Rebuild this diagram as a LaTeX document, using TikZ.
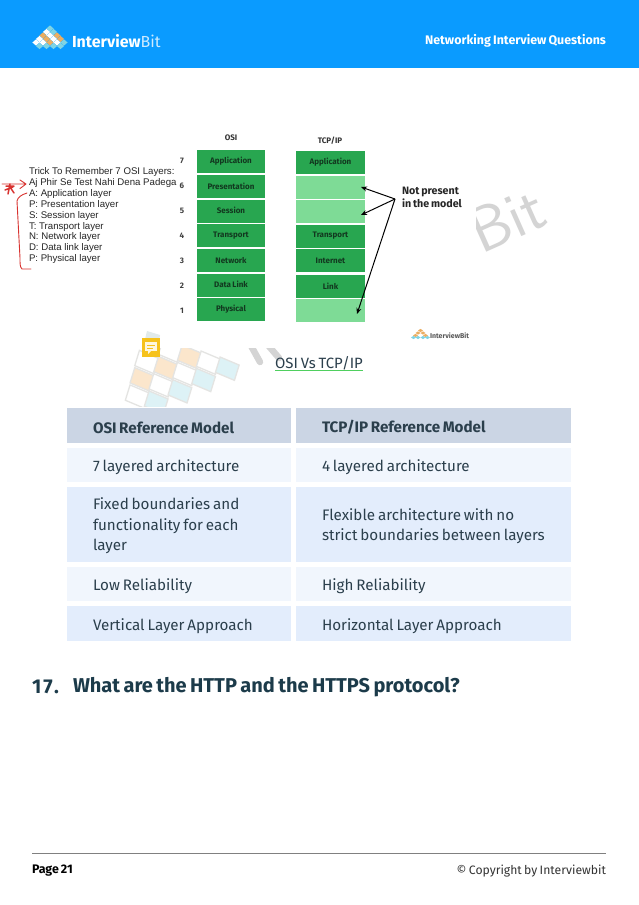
\documentclass[tikz,border=0pt]{standalone}
\usepackage{fontspec}
\setmainfont[WordSpace=0.72]{Fira Sans}
\newfontfamily\arialf{Liberation Sans}
\usetikzlibrary{arrows.meta,calc}
\definecolor{hdrblue}{HTML}{0A9BFF}
\definecolor{dkgreen}{HTML}{28A650}
\definecolor{ltgreen}{HTML}{7EDB96}
\definecolor{gtext}{HTML}{12381F}
\definecolor{thead}{HTML}{CBD5E4}
\definecolor{trowa}{HTML}{F1F6FD}
\definecolor{trowb}{HTML}{E3EDFC}
\definecolor{ttext}{HTML}{2B3F4C}
\definecolor{ttl}{HTML}{1C3B4A}
\definecolor{redm}{HTML}{D8322F}
\definecolor{lgor}{HTML}{FBE6CC}
\definecolor{lgcy}{HTML}{DDF2F6}
\definecolor{lgbd}{HTML}{E4E4E2}
\definecolor{amb}{HTML}{F6C21C}
\definecolor{wm}{HTML}{D4D4D4}
\definecolor{orl}{HTML}{EBAE62}
\definecolor{cyl}{HTML}{7FD4E4}
\tikzset{
 px/.style={inner sep=0pt,outer sep=0pt},
 greenbox/.style={px,fill=dkgreen,minimum width=68pt,minimum height=23pt,text=gtext,font=\fontsize{8}{9}\selectfont\bfseries},
 paleb/.style={px,fill=ltgreen,minimum width=69pt,minimum height=23pt},
 stackhead/.style={px,font=\fontsize{8}{9}\selectfont\bfseries,text=black!80},
 num/.style={px,font=\fontsize{8}{9}\selectfont\bfseries,text=black!75},
 trick/.style={px,anchor=west,font=\arialf\fontsize{9.65}{11}\selectfont,text=black!85},
 celltext/.style={px,anchor=west,text=ttext,font=\fontsize{15.2}{20.5}\selectfont,align=left},
 headtext/.style={px,anchor=west,text=ttext,font=\fontsize{15.2}{20}\selectfont\bfseries},
 pointer/.style={-{Stealth[length=6pt,width=5pt]},line width=1pt,black},
 redline/.style={redm,line width=.9pt,line cap=round,line join=round},
}
\newcommand{\lcell}[3]{\fill[#3,draw=lgbd,line width=1.3pt]
 ($(#1,#2)+(-7.15,-11.65)$)--($(#1,#2)+(11.85,-3.65)$)--($(#1,#2)+(7.15,11.65)$)--($(#1,#2)+(-11.85,3.65)$)--cycle;}
\newcommand{\dia}[3]{\fill[#3] (#1-3.6,#2)--(#1,#2-3.1)--(#1+3.6,#2)--(#1,#2+3.1)--cycle;}
\begin{document}
\begin{tikzpicture}[x=1pt,y=-1pt]
\useasboundingbox (0,0) rectangle (639,905);
\fill[white] (0,0) rectangle (639,905);
\fill[hdrblue] (0,0) rectangle (639,68);
% header logo
\foreach \x/\y/\c in {50/28.5/cyl,
 46.5/32/white,53.5/32/cyl,
 43/35.5/orl,50/35.5/white,57/35.5/orl,
 39.5/39/white,46.5/39/orl,53.5/39/white,60.5/39/orl,
 36/42.5/white,43/42.5/white,50/42.5/orl,57/42.5/white,64/42.5/cyl,
 39.5/46/cyl,46.5/46/cyl,53.5/46/cyl,60.5/46/cyl}{\dia{\x}{\y}{\c}}
\node[px,anchor=west,text=white,font=\fontsize{16}{18}\selectfont] (brand) at (72,41) {\textbf{Interview}\textcolor{white!80!hdrblue}{Bit}};
\node[px,anchor=east,text=white,font=\fontsize{12.45}{14}\selectfont\bfseries] (doc) at (606,41) {Networking Interview Questions};
% watermark
\begin{scope}
\clip (476,180) rectangle (560,262);
\node[px,text=wm,rotate=24,font=\fontsize{64}{66}\selectfont\sffamily] (wmbit) at (507,219) {Bit};
\end{scope}
% faded logo
\begin{scope}
\clip (100,348) rectangle (260,406);
\foreach \x/\y/\c in {146.6/362/white,170.3/350.7/white,
 189.3/356.7/lgor,208.3/362.7/white,227.3/368.7/lgcy,
 165.6/368/lgor,184.6/374/white,203.6/380/lgcy,
 141.9/379.3/lgor,160.9/385.3/white,179.9/391.3/lgcy,
 137.2/396.6/white,156.2/402.6/lgcy}{\lcell{\x}{\y}{\c}}
\end{scope}
\fill[lgbd!60!lgcy] (147,331)--(160,335)--(158,350)--(143,348)--cycle;
% W fragment
\begin{scope}
\clip (245,348) rectangle (290,372);
\draw[wm,line width=6.5pt,line cap=round] (250,344)--(260,362);
\draw[wm,line width=6.5pt,line cap=round] (267,344)--(279,358);
\end{scope}
% comment icon
\node[px,fill=amb,minimum width=18pt,minimum height=19pt] (cmt) at (151,347.5) {};
\fill[white!85!amb] (145,342) rectangle (157,351);
\fill[white!85!amb] (148,351)--(151,351)--(148,354)--cycle;
\draw[amb,line width=.7pt] (147,345)--(155,345) (147,348)--(153,348);
% stacks
\node[stackhead] (osi) at (231,138) {OSI};
\node[stackhead] (tcp) at (330,140.5) {TCP/IP};
\foreach \n/\t/\y in {a/Application/161.5,b/Presentation/186.5,c/Session/211,d/Transport/235.5,e/Network/260.5,f/Data Link/285,g/Physical/309.5}{
 \node[greenbox] (osi\n) at (231,\y) {\raisebox{1pt}{\t}};
}
\foreach \t/\y in {7/161,6/186,5/211,4/236,3/261,2/286,1/311}{
 \node[num] (n\t) at (182,\y) {\t};
}
\node[greenbox,minimum width=69pt] (ta) at (330.5,162.5) {\raisebox{1pt}{Application}};
\node[paleb] (tb) at (330.5,187) {};
\node[paleb] (tc) at (330.5,211.5) {};
\node[greenbox,minimum width=69pt] (td) at (330.5,236) {Transport};
\node[greenbox,minimum width=69pt] (te) at (330.5,260.5) {Internet};
\node[greenbox,minimum width=69pt] (tf) at (330.5,286) {Link};
\node[paleb] (tg) at (330.5,310.5) {};
\node[px,anchor=north west,align=left,text=black!85,font=\fontsize{10.7}{12.3}\selectfont\bfseries] (np) at (402,187.5) {Not present\\in the model};
\coordinate (src) at (395,199);
\coordinate (pa) at (361,187);
\coordinate (pb) at (361,215);
\coordinate (pc) at (357,314);
\draw[pointer] (src)--(pa);
\draw[pointer] (src)--(pb);
\draw[pointer] (src)--(pc);
% small logo
\foreach \x/\y/\c in {420.5/330.5/orl,418/333/orl,423/333/orl,415.5/335.5/orl,420.5/335.5/white,425.5/335.5/orl,
 418/337.5/cyl,423/337.5/cyl,413.5/337.5/cyl,427.5/337.5/cyl}{\fill[\c] (\x-2.5,\y)--(\x,\y-1.6)--(\x+2.5,\y)--(\x,\y+1.6)--cycle;}
\node[px,anchor=west,text=black!65,font=\fontsize{7}{8}\selectfont\bfseries] (small) at (430,336) {InterviewBit};
% trick text
\foreach \n/\t/\y in {t0/Trick To Remember 7 OSI Layers:/172.5,t1/Aj Phir Se Test Nahi Dena Padega/183.5,t2/A: Application layer/194,t3/P: Presentation layer/205,t4/S: Session layer/216,t5/T: Transport layer/227,t6/N: Network layer/237.5,t7/D: Data link layer/248,t8/P: Physical layer/259}{
 \node[trick] (\n) at (29,\y) {\t};
}
% red
\coordinate (ra) at (2,184);
\coordinate (rb) at (26,184);
\draw[redline] (ra)--(rb) (20,180)--(26,184)--(20,188.5);
\draw[redline,line width=1.5pt] (6,186)--(14,186) (5,190)--(13,187) (10,184)--(8,194) (10,187)--(14,193);
\draw[redline] (27,193) .. controls (21,195) and (18,197) .. (17,201) -- (20,258) .. controls (20,264) and (20,267) .. (22,269) -- (31,269);
% caption
\node[px,text=ttext,font=\fontsize{14.9}{18}\selectfont] (cap) at (319,363) {OSI Vs TCP/IP};
\draw[ltgreen!70!green!90!black,line width=1pt] (275,370.5)--(363,370.5);
% table
\foreach \n/\x/\w/\y/\h/\c in {
 ha/67/224/408/35/thead, hb/296/275/408/35/thead,
 ra/67/224/448/34/trowa, rb/296/275/448/34/trowa,
 sa/67/224/487/75/trowb, sb/296/275/487/75/trowb,
 ua/67/224/567/34/trowa, ub/296/275/567/34/trowa,
 va/67/224/606/35/trowb, vb/296/275/606/35/trowb}{
 \fill[\c] (\x,\y) rectangle ++(\w,\h);
}
\node[headtext] (h1) at (93,427.5) {OSI Reference Model};
\node[headtext] (h2) at (322,427.5) {TCP/IP Reference Model};
\node[celltext] (c11) at (93,467) {7 layered architecture};
\node[celltext] (c12) at (322,467) {4 layered architecture};
\node[celltext] (c21) at (93,526) {Fixed boundaries and\\functionality for each\\layer};
\node[celltext] (c22) at (322,526) {Flexible architecture with no\\strict boundaries between layers};
\node[celltext] (c31) at (93,586) {Low Reliability};
\node[celltext] (c32) at (322,586) {High Reliability};
\node[celltext] (c41) at (93,626) {Vertical Layer Approach};
\node[celltext] (c42) at (322,626) {Horizontal Layer Approach};
% heading
\node[px,anchor=west,text=ttl,font=\fontsize{20}{23}\selectfont\bfseries] (qn) at (32,687) {1\kern2pt 7\kern1.5pt .};
\node[px,anchor=west,text=ttl,font=\fontsize{20}{23}\selectfont\bfseries] (q) at (73,687) {What are the HTTP and the HTTPS protocol?};
% footer
\coordinate (fa) at (32,853.5);
\coordinate (fb) at (606,853.5);
\draw[black!50,line width=1.4pt] (fa)--(fb);
\node[px,anchor=west,text=black,font=\fontsize{12.4}{14}\selectfont\bfseries] (pg) at (32,871) {Page 21};
\node[px,anchor=east,text=black!80,font=\fontsize{12.2}{14}\selectfont] (cr) at (606,871) {© Copyright by Interviewbit};
\end{tikzpicture}
\end{document}
